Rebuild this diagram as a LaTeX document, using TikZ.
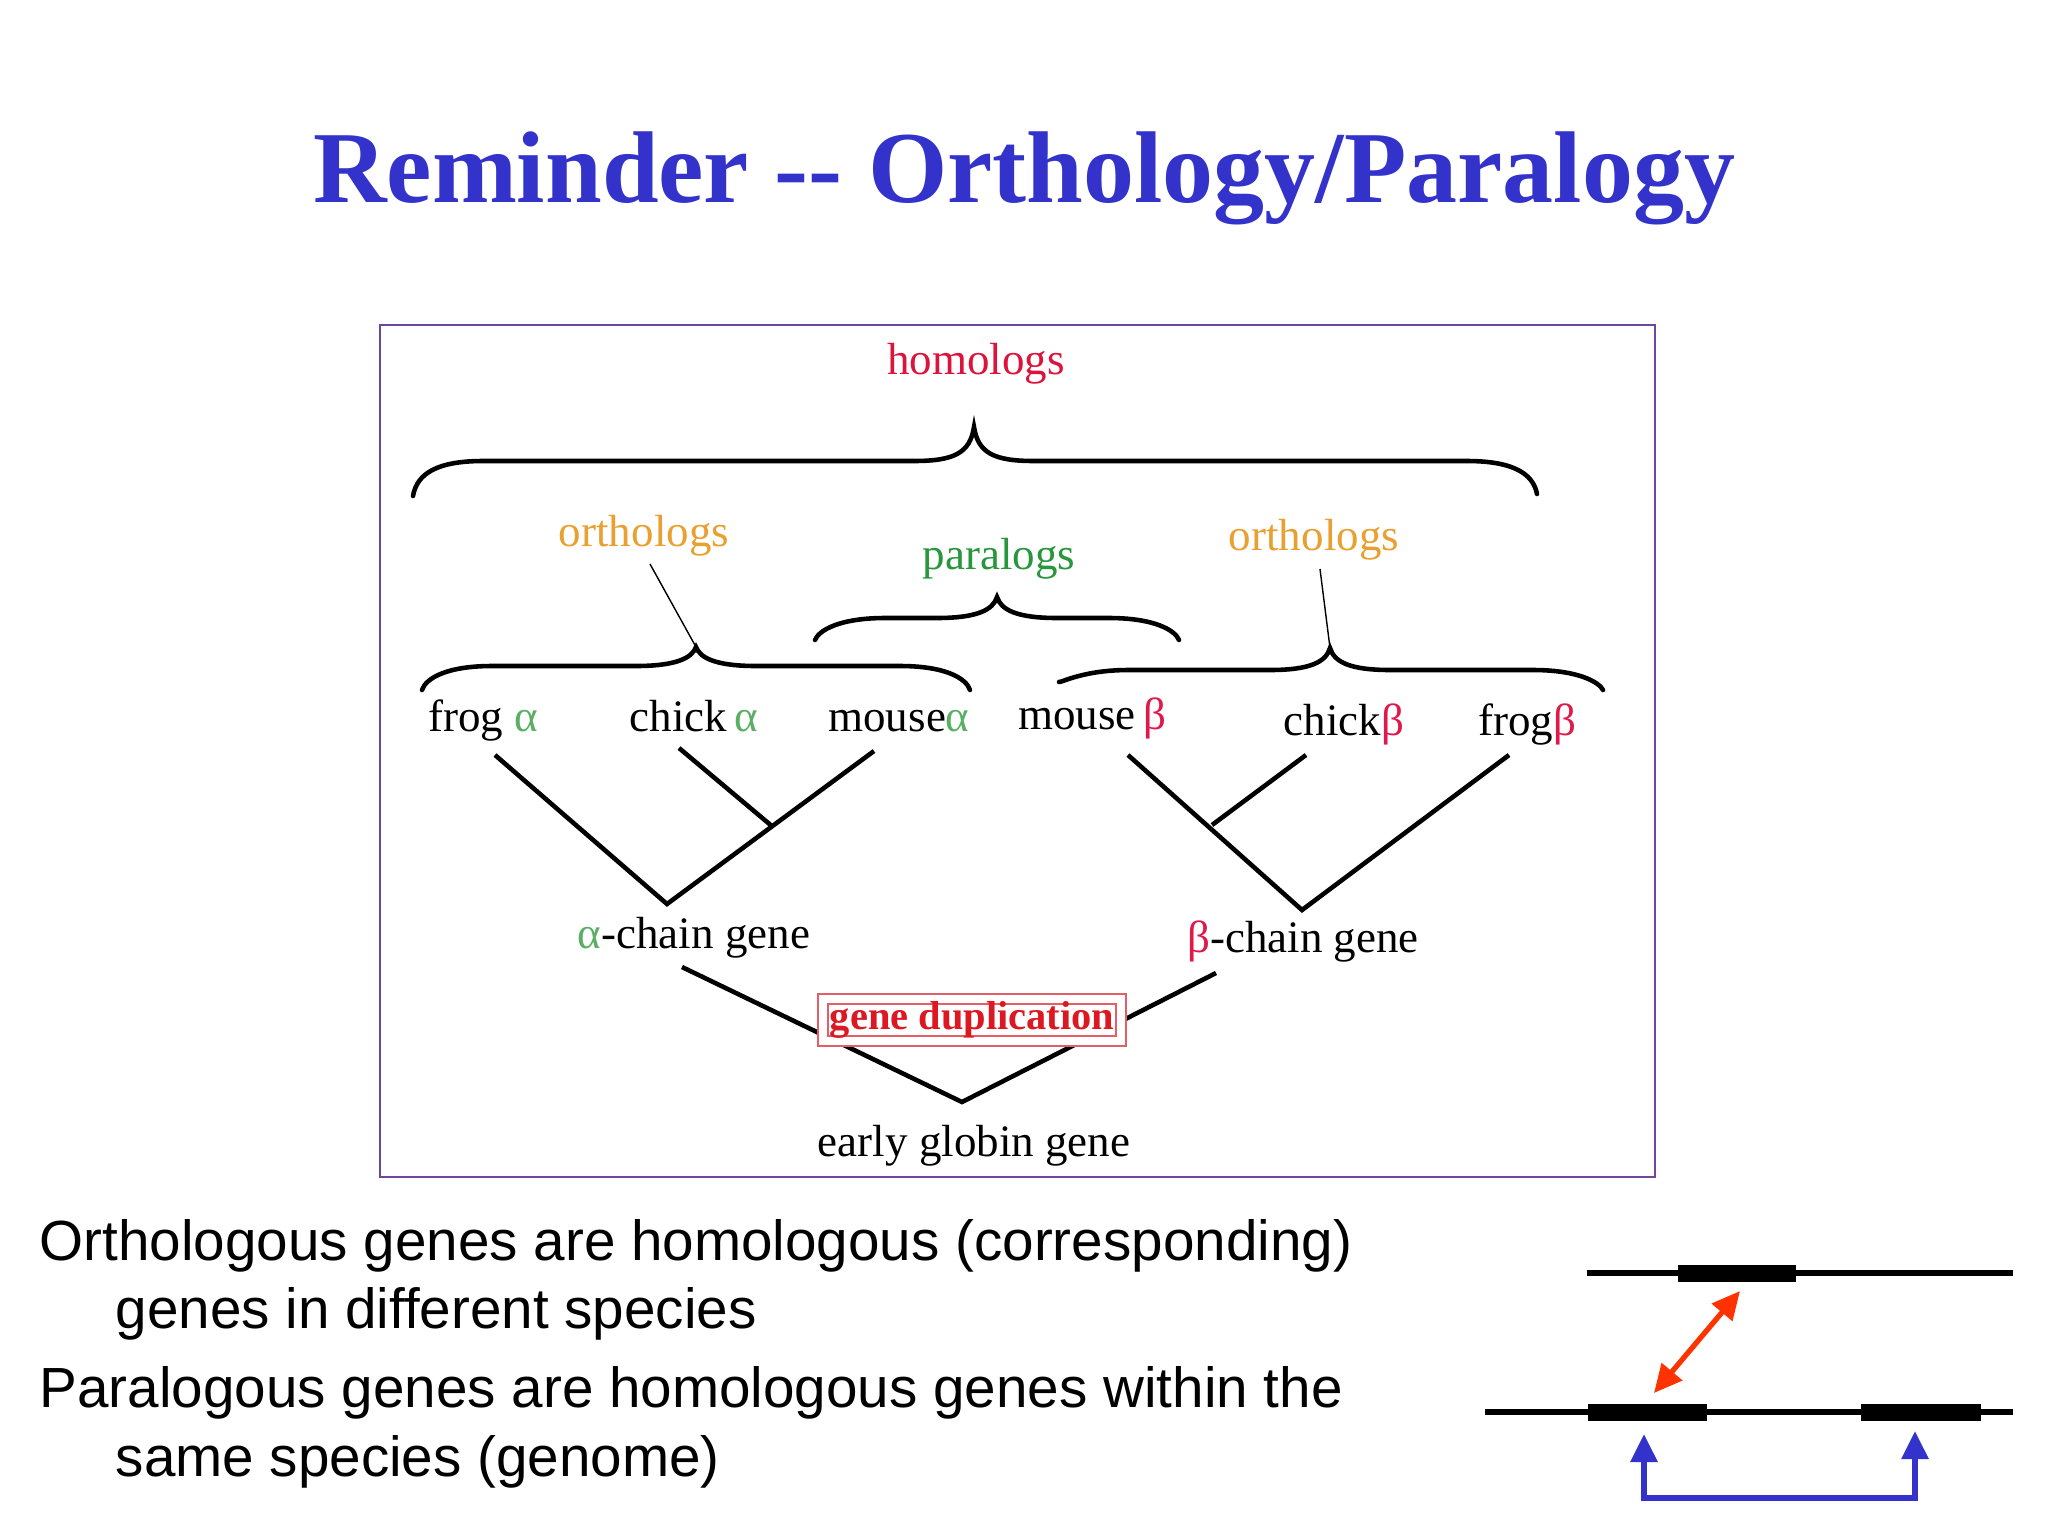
\documentclass[tikz,border=0pt]{standalone}
\usepackage{fontspec}
\setmainfont{Liberation Serif}
\newfontfamily\sansf{Liberation Sans}
\usetikzlibrary{arrows.meta}
\definecolor{titleblue}{RGB}{51,51,204}
\definecolor{homred}{RGB}{220,20,60}
\definecolor{orthor}{RGB}{232,160,48}
\definecolor{paragr}{RGB}{40,150,60}
\definecolor{alphag}{RGB}{90,175,100}
\definecolor{betar}{RGB}{225,25,75}
\definecolor{boxpurple}{RGB}{110,70,160}
\definecolor{dupred}{RGB}{220,25,35}
\definecolor{arrred}{RGB}{255,51,0}
\definecolor{arrblue}{RGB}{51,51,204}
\newcommand\mybrace[7]{%
  \draw[bracel] (#1,#2) .. controls ({#1+4},{#5+12}) and ({#1+25},#5) .. ({#1+70},#5)
  -- ({#6-60},#5) .. controls ({#6-20},#5) and ({#6-4},{#5-8}) .. (#6,#7)
  .. controls ({#6+4},{#5-8}) and ({#6+20},#5) .. ({#6+60},#5)
  -- ({#3-70},#5) .. controls ({#3-25},#5) and ({#3-4},{#5+12}) .. (#3,#4);}
\newcommand\ga{\textcolor{alphag}{α}}
\newcommand\gb{\textcolor{betar}{β}}
\begin{document}
\begin{tikzpicture}[x=0.01cm,y=-0.01cm,
  bracel/.style={line width=1.3pt,line cap=round},
  treel/.style={line width=1.3pt},
  leader/.style={line width=0.4pt},
  lbl/.style={anchor=base,inner sep=0pt,font=\fontsize{12.8}{15}\selectfont},
  gdup/.style={draw=dupred!70,double=white,double distance=2.5pt,line width=0.4pt,fill=white,
    minimum width=2.98cm,minimum height=0.42cm,inner sep=0pt,text=dupred,
    font=\fontsize{11.5}{13}\selectfont\bfseries},
  bodytext/.style={anchor=base west,inner sep=0pt,font=\sansf\fontsize{16.1}{19}\selectfont},
  chrom/.style={line width=1.85pt},
  block/.style={fill=black},
  tipa/.tip={Triangle[length=0.28cm 0 0,width=0.26cm 0 0]},
  redarr/.style={arrred,line width=1.5pt,tipa-tipa},
  bluearr/.style={arrblue,line width=1.7pt,tipa-tipa}
]
\useasboundingbox (0,0) rectangle (2048,1536);
% title
\node[anchor=base,inner sep=0pt,text=titleblue,font=\fontsize{29}{34}\selectfont\bfseries] (title) at (1024,202) {Reminder {-}{-} Orthology/Paralogy};
% frame
\draw[boxpurple,line width=0.5pt] (380,325) rectangle (1655,1177);
% group labels
\node[lbl,text=homred] (hom) at (976,374) {homologs};
\node[lbl,text=orthor] (orthL) at (644,546) {orthologs};
\node[lbl,text=orthor] (orthR) at (1314,550) {orthologs};
\node[lbl,text=paragr] (para) at (999,569) {paralogs};
% braces
\mybrace{413}{496}{1537}{494}{461}{974}{427}
\mybrace{422}{690}{970}{690}{666}{696}{647}
\mybrace{815}{640}{1179}{640}{618}{997}{597}
\mybrace{1059}{682}{1603}{690}{670}{1330}{648}
% leaders
\coordinate (ltipL) at (696,647);
\coordinate (ltipR) at (1330,648);
\draw[leader] (650,564) -- (ltipL);
\draw[leader] (1320,569) -- (ltipR);
% taxa
\node[lbl] (frogA) at (483,731) {frog \ga};
\node[lbl] (chickA) at (694,731) {chick\,\ga};
\node[lbl] (mouseA) at (899,731) {mouse\ga};
\node[lbl] (mouseB) at (1092,729) {mouse\,\gb};
\node[lbl] (chickB) at (1344,735) {chick\gb};
\node[lbl] (frogB) at (1527,735) {frog\gb};
% tree coordinates
\coordinate (fa) at (495,755);
\coordinate (ca) at (679,748);
\coordinate (ma) at (874,751);
\coordinate (ja) at (773,827);
\coordinate (ra) at (667,904);
\coordinate (mb) at (1128,755);
\coordinate (cb) at (1306,755);
\coordinate (fb) at (1509,755);
\coordinate (jb) at (1212,825);
\coordinate (rb) at (1302,910);
\draw[treel] (fa) -- (ra) -- (ma);
\draw[treel] (ca) -- (ja);
\draw[treel] (mb) -- (rb) -- (fb);
\draw[treel] (cb) -- (jb);
% chain genes
\node[lbl] (achain) at (694,948) {\ga-chain gene};
\node[lbl] (bchain) at (1303,952) {\gb-chain gene};
\node[lbl] (early) at (974,1156) {early globin gene};
% root
\coordinate (sa) at (682,967);
\coordinate (sb) at (1216,973);
\coordinate (apex) at (962,1102);
\draw[treel] (sa) -- (apex) -- (sb);
\node[gdup] (gd) at (972,1020) {gene duplication};
% bottom text
\node[bodytext] (l1) at (39,1260) {Orthologous genes are homologous (corresponding)};
\node[bodytext] (l2) at (115,1328) {genes in different species};
\node[bodytext] (l3) at (39,1407) {Paralogous genes are homologous genes within the};
\node[bodytext] (l4) at (115,1476) {same species (genome)};
% chromosomes
\draw[chrom] (1587,1273) -- (2013,1273);
\fill[block] (1678,1265) rectangle (1796,1282);
\draw[chrom] (1485,1412) -- (2013,1412);
\fill[block] (1588,1404) rectangle (1707,1421);
\fill[block] (1861,1404) rectangle (1981,1421);
\coordinate (ra1) at (1654,1393);
\coordinate (ra2) at (1740,1291);
\draw[redarr] (ra1) -- (ra2);
\coordinate (ba1) at (1644,1434);
\coordinate (ba2) at (1915,1431);
\draw[bluearr,line join=miter] (ba1) -- (1644,1498) -- (1915,1498) -- (ba2);
\end{tikzpicture}
\end{document}
